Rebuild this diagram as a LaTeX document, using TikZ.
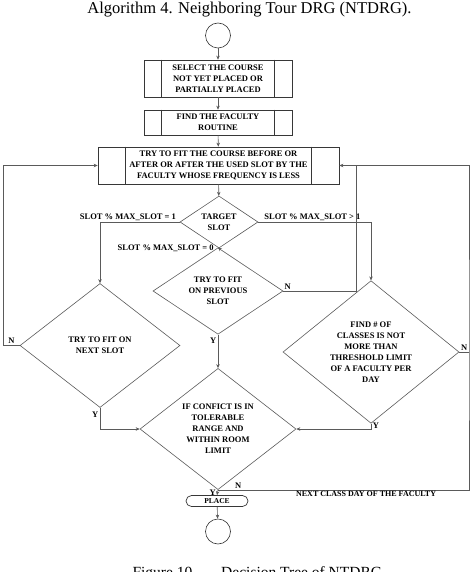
\documentclass[tikz,border=0pt]{standalone}
\usepackage{fontspec}
\setmainfont{Liberation Serif}
\usepackage{tikz}
\usetikzlibrary{shapes.geometric, arrows.meta, positioning}
\definecolor{linegray}{RGB}{90,90,90}
\definecolor{boxgray}{RGB}{55,55,55}

\begin{document}
\begin{tikzpicture}[
      x=1pt, y=-1pt,
      font=\fontsize{8.5}{11}\selectfont\bfseries,
      proc/.style={rectangle, draw=boxgray, line width=0.7pt, align=center, inner sep=0pt},
      decision/.style={diamond, draw=linegray, line width=0.6pt, align=center, inner sep=0pt},
      term/.style={circle, draw=boxgray, line width=0.6pt, minimum size=25pt, inner sep=0pt},
      arr/.style={-{Stealth[length=4pt, width=3.5pt]}, linegray, line width=0.6pt},
      lbl/.style={inner sep=1.5pt, text=black},
    ]
    \useasboundingbox (0,0) rectangle (474,572);
    \clip (0,0) rectangle (474,572);

    \node[anchor=base, font=\fontsize{16.5}{19}\selectfont] (title) at (249.5,14) {Algorithm 4. Neighboring Tour DRG (NTDRG).};

    \node[term] (start) at (218,35.5) {};
    \node[proc, minimum width=148pt, minimum height=37pt] (select) at (218,78.5) {SELECT THE COURSE\\NOT YET PLACED OR\\PARTIALLY PLACED};
    \node[proc, minimum width=148pt, minimum height=25pt] (faculty) at (218,122.5) {FIND THE FACULTY\\ROUTINE};
    \node[proc, minimum width=241pt, minimum height=37pt] (tryfit) at (218.5,165.5) {TRY TO FIT THE COURSE BEFORE OR\\AFTER OR AFTER THE USED SLOT BY THE\\FACULTY WHOSE FREQUENCY IS LESS};

    \node[decision, minimum width=78pt, minimum height=49pt] (target) at (219,222) {TARGET\\SLOT};
    \node[decision, minimum width=130pt, minimum height=65pt] (prev) at (218,291) {TRY TO FIT\\ON PREVIOUS\\SLOT};
    \node[decision, minimum width=160pt, minimum height=124pt] (next) at (100,345.5) {TRY TO FIT ON\\NEXT SLOT};
    \node[decision, minimum width=176pt, minimum height=136pt] (thresh) at (371,352) {FIND \# OF\\CLASSES IS NOT\\MORE THAN\\THRESHOLD LIMIT\\OF A FACULTY PER\\DAY};
    \node[decision, minimum width=156pt, minimum height=114pt] (conflict) at (218,429) {IF CONFICT IS IN\\TOLERABLE\\RANGE AND\\WITHIN ROOM\\LIMIT};

    \node[proc, rounded corners=5.5pt, minimum width=62pt, minimum height=11pt, font=\fontsize{7.5}{9}\selectfont\bfseries] (place) at (217,501) {PLACE};
    \node[term] (stop) at (218,531.5) {};

    \node[anchor=base west, font=\fontsize{15.5}{18}\selectfont] (caption) at (129,577) {Figure 10.\hspace{25pt}Decision Tree of NTDRG};

    % side bars of the process boxes
    \foreach \n/\d in {select/18, faculty/18, tryfit/28} {
      \draw[boxgray, line width=0.7pt] ([xshift=\d]\n.north west) -- ([xshift=\d]\n.south west);
      \draw[boxgray, line width=0.7pt] ([xshift=-\d]\n.north east) -- ([xshift=-\d]\n.south east);
    }

    \coordinate (lf) at (3,345.5);
    \coordinate (rt) at (469,352);
    \coordinate (jn) at (356,165.5);

    \draw[arr] (start) -- (select);
    \draw[arr] (select) -- (faculty);
    \draw[arr] (faculty) -- (tryfit);
    \draw[arr] (tryfit) -- (target);

    \draw[arr] (target.west) -| node[pos=0.325, above, lbl] {SLOT \% MAX\_SLOT = 1} (next.north);
    \draw[arr] (target.east) -| node[pos=0.24, above, lbl] {SLOT \% MAX\_SLOT > 1} (thresh.north);
    \draw[arr] (target.south) -- node[left, lbl, xshift=-3pt] {SLOT \% MAX\_SLOT = 0} (prev.north);

    \draw[linegray, line width=0.6pt] (prev.east) -| node[pos=0.03, above, lbl] {N} (jn);
    \draw[arr] (prev.south) -- node[pos=0.18, left, lbl] {Y} (conflict.north);

    \draw[arr] (next.west) -- node[above, lbl] {N} (lf) |- (tryfit.west);
    \draw[arr] (next.south) |- node[pos=0.17, left, lbl] {Y} (conflict.west);

    \draw[linegray, line width=0.6pt] (thresh.east) -- node[above, lbl] {N} (rt);
    \draw[arr] (thresh.south) |- node[pos=0.2, right, lbl] {Y} (conflict.east);

    \draw[arr] (conflict.south) -| node[pos=0.04, above, lbl] {N} node[pos=0.295, below, lbl, font=\fontsize{8}{10}\selectfont\bfseries] {NEXT CLASS DAY OF THE FACULTY} (rt) |- (tryfit.east);
    \draw[arr] (conflict.south) -- node[left, lbl] {Y} (place.north);
    \draw[arr] (place) -- (stop);
  \end{tikzpicture}
\end{document}
